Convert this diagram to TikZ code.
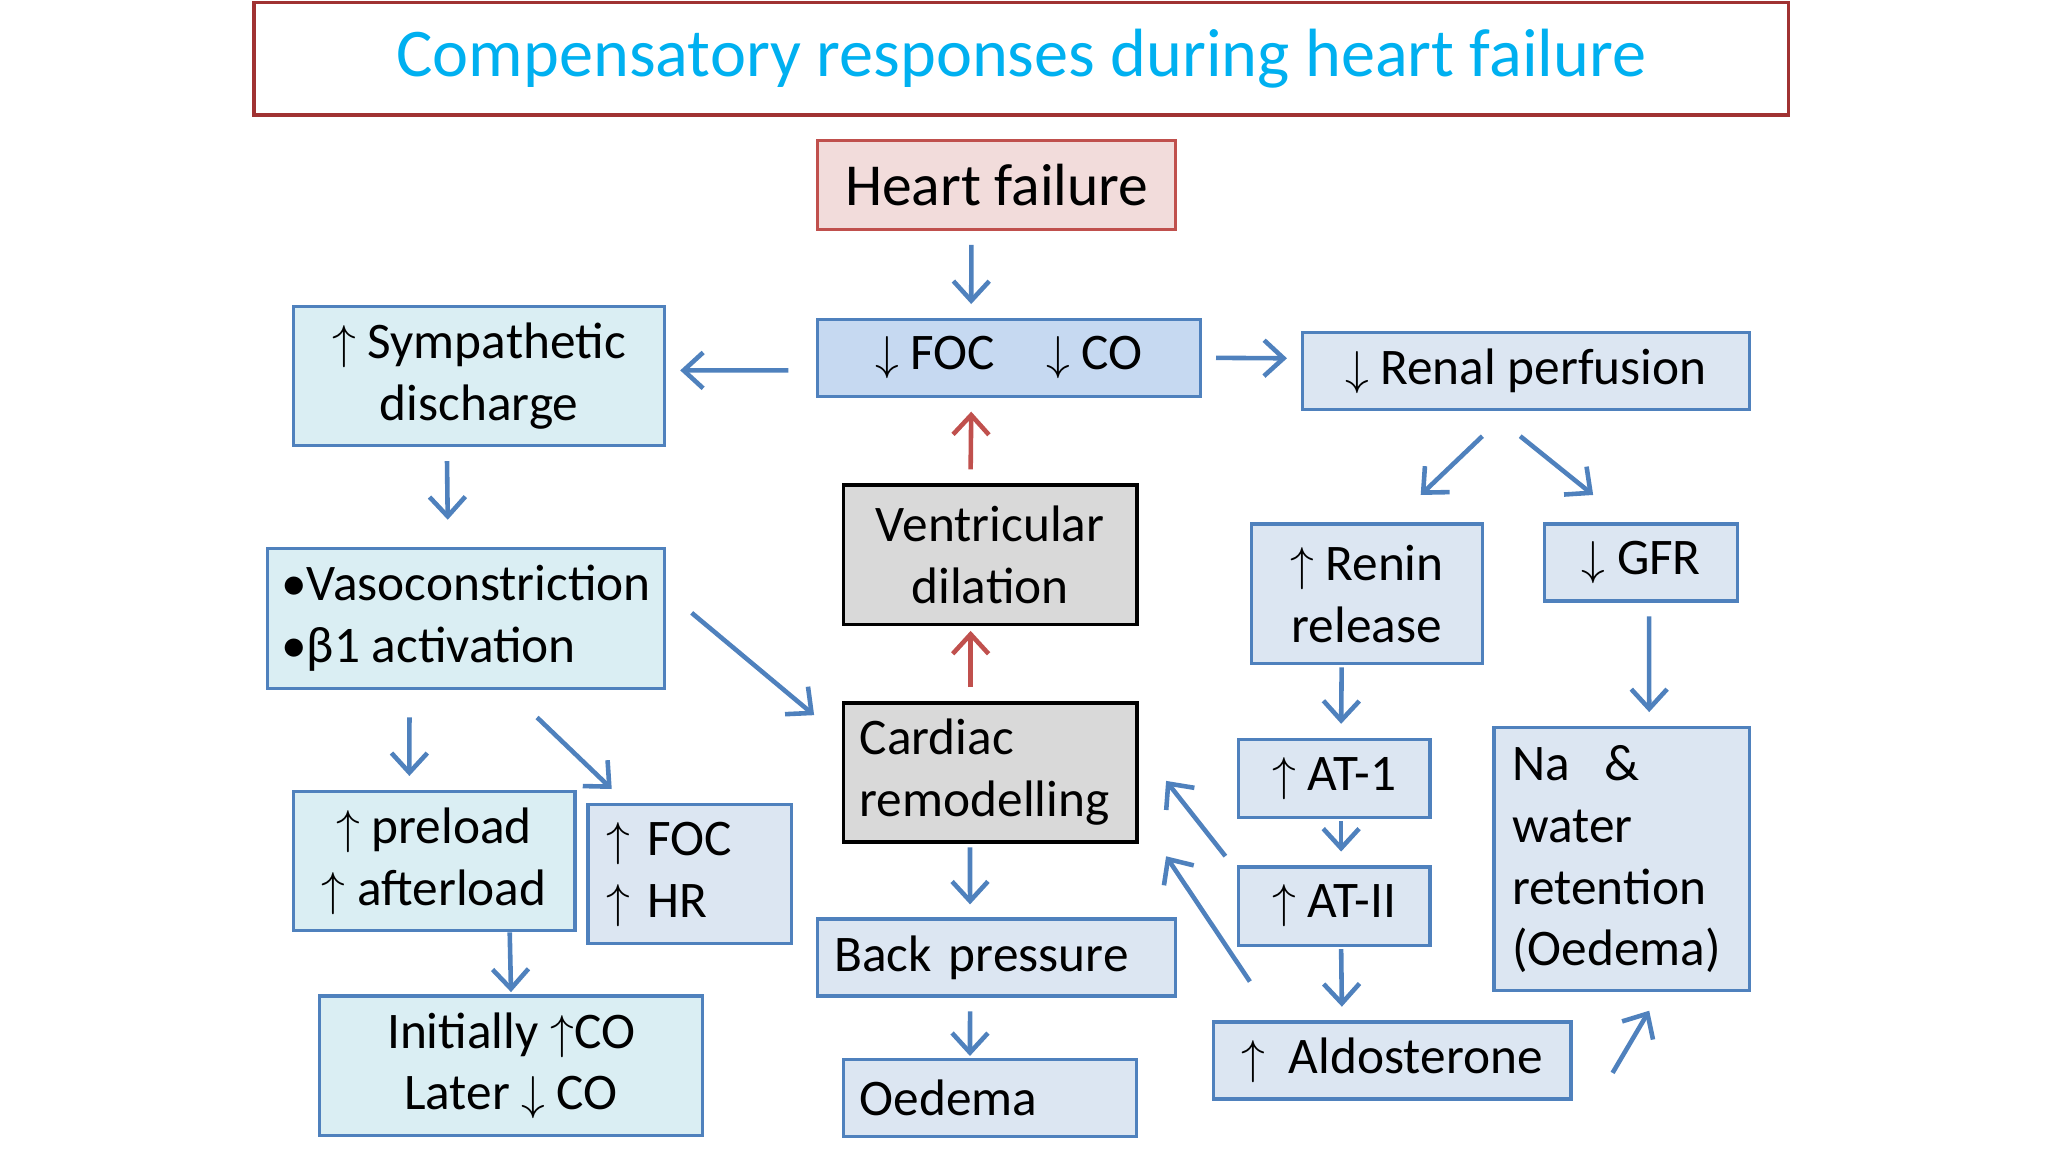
\documentclass[tikz,border=0pt]{standalone}
\usepackage{fontspec}
\setmainfont{Carlito}
\usetikzlibrary{arrows.meta,calc}
\definecolor{boxline}{RGB}{79,129,189}
\definecolor{boxfill}{RGB}{220,230,242}
\definecolor{cyanfill}{RGB}{218,238,243}
\definecolor{focfill}{RGB}{198,217,241}
\definecolor{hffill}{RGB}{242,220,219}
\definecolor{hfline}{RGB}{192,80,77}
\definecolor{titleline}{RGB}{160,50,50}
\definecolor{titletext}{RGB}{0,176,240}
\newcommand{\up}{$\uparrow$}
\newcommand{\dn}{$\downarrow$}

\begin{document}
\begin{tikzpicture}[x=0.2mm,y=-0.2mm,
    box/.style={rectangle, draw=boxline, fill=boxfill, line width=1.4pt,
      inner sep=0pt, font=\fontsize{22.4}{27}\selectfont, align=center},
    cbox/.style={box, fill=cyanfill},
    gbox/.style={box, draw=black, fill=black!15, line width=1.6pt},
    arr/.style={-{Straight Barb[length=3mm,width=5.5mm]}, draw=boxline,
      line width=2pt},
    rarr/.style={arr, draw=hfline},
  ]
  \useasboundingbox (0,0) rectangle (1571,884);
  \node[draw=titleline, line width=1.6pt, minimum width=235.4mm, minimum height=17.2mm,
    text=titletext, font=\fontsize{29.8}{34}\selectfont] (title) at (783.5,45)
    {Compensatory responses during heart failure};

  \node[box, draw=hfline, fill=hffill, minimum width=55mm, minimum height=13.6mm,
    font=\fontsize{26}{30}\selectfont] (hf) at (764.5,142) {Heart failure};
  \node[box, fill=focfill, minimum width=58.8mm, minimum height=11.8mm] (foc) at (774,274.5) {\dn\ FOC\quad \dn\ CO};
  \node[cbox, minimum width=57mm, minimum height=21.4mm] (symp) at (367.5,288.5) {\up\ Sympathetic\\discharge};
  \node[box, minimum width=68.6mm, minimum height=11.8mm] (renal) at (1170.5,284.5) {\dn\ Renal perfusion};
  \node[gbox, minimum width=45mm, minimum height=21.4mm] (vent) at (759.5,425.5) {Ventricular\\dilation};
  \node[cbox, minimum width=61mm, minimum height=21.4mm, align=left] (vaso) at (357.5,474.5) {\textbullet Vasoconstriction\\\textbullet β1 activation};
  \node[box, minimum width=35.4mm, minimum height=21.4mm] (renin) at (1048.5,455.5) {\up\ Renin\\release};
  \node[box, minimum width=29.6mm, minimum height=11.8mm] (gfr) at (1259,431.5) {\dn\ GFR};
  \node[gbox, minimum width=45mm, minimum height=21.4mm, text width=40mm, align=left] (card) at (759.5,592.5) {Cardiac\\remodelling};
  \node[cbox, minimum width=43.2mm, minimum height=21.4mm] (pre) at (333,660.5) {\up\ preload\\\up\ afterload};
  \node[box, minimum width=31.2mm, minimum height=21.4mm, text width=25.6mm, align=left] (fochr) at (529,670.5) {\up\ FOC\\\up\ HR};
  \node[box, minimum width=29.4mm, minimum height=12mm] (at1) at (1023.5,597) {\up\ AT-1};
  \node[box, minimum width=29.4mm, minimum height=12mm] (at2) at (1023.5,695) {\up\ AT-II};
  \node[box, minimum width=39.2mm, minimum height=40.4mm, text width=33.6mm, align=left] (na) at (1244,659) {Na\ \ \&\\water\\retention\\(Oedema)};
  \node[box, minimum width=55mm, minimum height=11.8mm, text width=49.8mm, align=left] (back) at (764.5,734.5) {Back pressure};
  \node[cbox, minimum width=58.8mm, minimum height=21.4mm] (init) at (392,817.5) {Initially \up CO\\Later \dn\ CO};
  \node[box, minimum width=45mm, minimum height=11.8mm, text width=40mm, align=left] (oed) at (759.5,842.5) {Oedema};
  \node[box, minimum width=54.8mm, minimum height=11.8mm] (aldo) at (1068,813.5) {\up\ \ Aldosterone};

  % main chain
  \draw[arr] ([xshift=-11pt,yshift=-6pt]hf.south) -- ([xshift=-16.5pt,yshift=6pt]foc.north);
  \draw[arr] ([xshift=-12pt,yshift=-5.5pt]foc.west) -- ([xshift=6pt,yshift=2.5pt]symp.east);
  \draw[arr] ([xshift=6pt]foc.east) -- ([xshift=-6pt,yshift=5.5pt]renal.west);
  \draw[rarr] ([xshift=-8.5pt,yshift=6pt]vent.north) -- ([xshift=-16.5pt,yshift=-6pt]foc.south);
  \draw[rarr] ([xshift=-8.5pt,yshift=6pt]card.north) -- ([xshift=-8.5pt,yshift=-2pt]vent.south);
  \draw[arr] ([xshift=-8.8pt,yshift=-1.5pt]card.south) -- ([xshift=-11.6pt,yshift=5.7pt]back.north);
  \draw[arr] ([xshift=-11.6pt,yshift=-6pt]back.south) -- ([xshift=-8.8pt,yshift=1pt]oed.north);

  % left side
  \draw[arr] ([xshift=-14pt,yshift=-6pt]symp.south) -- ([xshift=-8pt,yshift=12pt]vaso.north);
  \draw[arr] ([xshift=-24.7pt,yshift=-12pt]vaso.south) -- ([xshift=-10.8pt,yshift=6pt]pre.north);
  \draw[arr] ([xshift=31pt,yshift=-12pt]vaso.south) -- ([xshift=-34pt,yshift=6pt]fochr.north);
  \draw[arr] ([xshift=11pt,yshift=2.5pt]vaso.east) -- ([xshift=-12pt,yshift=25pt]card.west);
  \draw[arr] ([xshift=33pt]pre.south) -- ([yshift=1pt]init.north);

  % right side
  \draw[arr] ([xshift=-19pt,yshift=-11pt]renal.south) -- ([xshift=23.5pt,yshift=12pt]renin.north);
  \draw[arr] ([xshift=-2.5pt,yshift=-11pt]renal.south) -- ([xshift=-21pt,yshift=12pt]gfr.north);
  \draw[arr] ([xshift=-11pt,yshift=-1pt]renin.south) -- ([xshift=3pt,yshift=6pt]at1.north);
  \draw[arr] ([xshift=3pt,yshift=-1pt]at1.south) -- ([xshift=3pt,yshift=6pt]at2.north);
  \draw[arr] ([xshift=3pt,yshift=-1pt]at2.south) -- ([xshift=-22pt,yshift=6pt]aldo.north);
  \draw[arr] ([xshift=3.4pt,yshift=-6pt]gfr.south) -- ([xshift=12pt,yshift=6pt]na.north);
  \draw[arr] ([xshift=-5pt,yshift=-34pt]at1.west) -- ([xshift=12pt,yshift=-3.7pt]card.east);
  \draw[arr] ([xshift=16.5pt,yshift=17pt]aldo.north west) -- ([xshift=12pt,yshift=-36.6pt]card.east);
  \draw[arr] ([xshift=17.5pt,yshift=-5.4pt]aldo.east) -- ([xshift=12pt,yshift=-8pt]na.south);
\end{tikzpicture}
\end{document}
